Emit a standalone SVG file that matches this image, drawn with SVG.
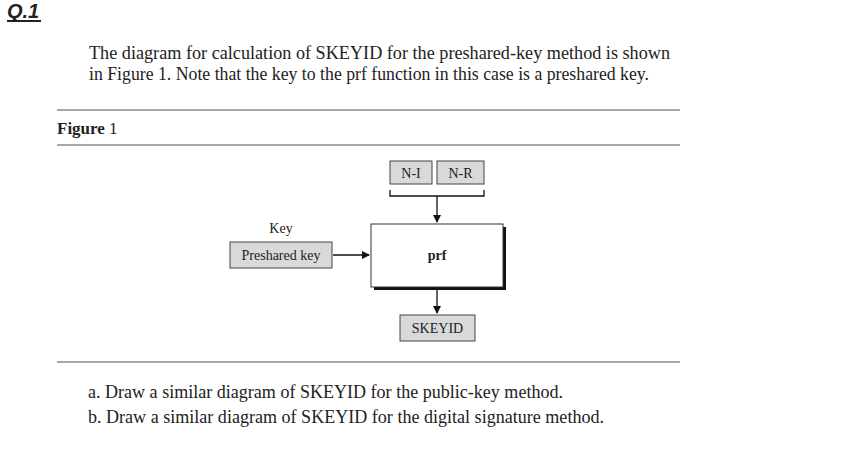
<svg xmlns="http://www.w3.org/2000/svg" width="865" height="452" viewBox="0 0 865 452">
<style>
.t{font-family:"Liberation Serif",serif;fill:#222}
.b{fill:#d9d9d9;stroke:#444;stroke-width:1}
.c{stroke:#111;stroke-width:1.3;fill:none}
.r{stroke:#888;stroke-width:1.3}
</style>
<defs><marker id="a" markerWidth="8" markerHeight="8" refX="7" refY="4" orient="auto" markerUnits="userSpaceOnUse"><path d="M0,0L8,4L0,8z" fill="#111"/></marker></defs>
<rect width="865" height="452" fill="#fff"/>
<text x="7" y="18" font-family="Liberation Sans,sans-serif" font-weight="bold" font-style="italic" font-size="20" fill="#222">Q.1</text>
<line x1="7" y1="21" x2="41" y2="21" stroke="#222" stroke-width="1.8"/>
<text class="t" x="89" y="59" font-size="18" textLength="581" lengthAdjust="spacingAndGlyphs">The diagram for calculation of SKEYID for the preshared-key method is shown</text>
<text class="t" x="89" y="80" font-size="18" textLength="560" lengthAdjust="spacingAndGlyphs">in Figure 1. Note that the key to the prf function in this case is a preshared key.</text>
<line class="r" x1="57" y1="110" x2="680" y2="110"/>
<text class="t" x="57" y="134" font-size="17"><tspan font-weight="bold">Figure</tspan> 1</text>
<line class="r" x1="57" y1="145" x2="680" y2="145"/>
<g id="ni"><rect class="b" x="390" y="161" width="42" height="23"/><text class="t" x="411" y="178" font-size="14" text-anchor="middle">N-I</text></g>
<g id="nr"><rect class="b" x="437" y="161" width="47" height="23"/><text class="t" x="460.5" y="178" font-size="14" text-anchor="middle">N-R</text></g>
<g id="key"><text class="t" x="281" y="233" font-size="14" text-anchor="middle">Key</text><rect class="b" x="230" y="242" width="102" height="26"/><text class="t" x="281" y="260" font-size="14" text-anchor="middle">Preshared key</text></g>
<g id="prf"><rect x="374" y="227" width="132" height="63" fill="#111"/><rect x="371" y="224" width="132" height="63" fill="#fff" stroke="#333"/><text class="t" x="437" y="260" font-size="14" font-weight="bold" text-anchor="middle">prf</text></g>
<g id="skeyid"><rect class="b" x="400" y="315" width="75" height="26"/><text class="t" x="437.5" y="333" font-size="14" text-anchor="middle">SKEYID</text></g>
<g id="connectors">
<path class="c" d="M390,190V196H484V190"/>
<path class="c" d="M437,196V222" marker-end="url(#a)"/>
<path class="c" d="M333,255H369" marker-end="url(#a)"/>
<path class="c" d="M437,290V313" marker-end="url(#a)"/>
</g>
<line class="r" x1="57" y1="362" x2="680" y2="362"/>
<text class="t" x="88" y="398" font-size="18" textLength="475" lengthAdjust="spacingAndGlyphs">a.  Draw a similar diagram of SKEYID for the public-key method.</text>
<text class="t" x="88" y="423" font-size="18" textLength="516" lengthAdjust="spacingAndGlyphs">b.  Draw a similar diagram of SKEYID for the digital signature method.</text>
</svg>
